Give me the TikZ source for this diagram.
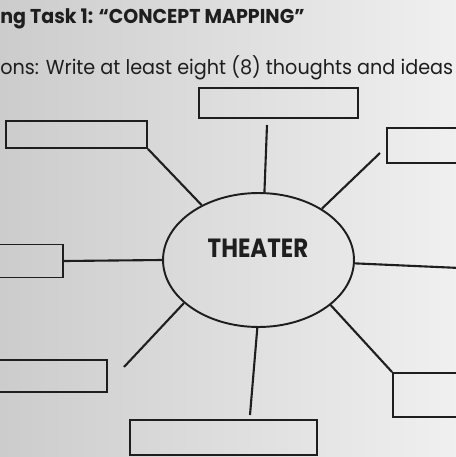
\documentclass[tikz,border=0pt]{standalone}
\usepackage{fontspec}
\setmainfont{Poppins}
\newfontfamily\headfont[FakeStretch=0.95]{Poppins}
\newfontfamily\wordfont[FakeStretch=0.87]{Poppins}
\usepackage{tikz}
\usetikzlibrary{shapes.geometric}
\definecolor{ink}{RGB}{30, 30, 30}

\begin{document}
\begin{tikzpicture}[
    x=0.02cm, y=-0.02cm,
    answer/.style={rectangle, draw=ink, line width=1.1pt, inner sep=0pt},
    topic/.style={ellipse, draw=ink, line width=1.1pt, minimum width=3.82cm, minimum height=2.68cm, inner sep=0pt},
    spoke/.style={draw=ink, line width=1.2pt}
]
    \path[use as bounding box, clip] (0,0) rectangle (456,457);
    \shade[left color=black!20, right color=black!6] (0,0) rectangle (456,457);

    % Heading
    \node[anchor=base west, inner sep=0pt, text=ink, font=\fontsize{11.4}{13}\headfont\bfseries] (title) at (0,23) {ng Task 1: “CONCEPT MAPPING”};
    \node[anchor=base west, inner sep=0pt, text=ink, font=\fontsize{11.5}{13}\headfont] (hint) at (0,74) {ons: Write at least eight (8) thoughts and ideas};

    % Centre
    \node[topic] (theater) at (258.5,260) {};
    \node[text=ink, font=\fontsize{15}{17}\wordfont\bfseries] (word) at (258,248) {THEATER};

    % Answer boxes
    \node[answer, minimum width=3.18cm, minimum height=0.6cm] (box_top) at (278.5,103) {};
    \node[answer, minimum width=2.82cm, minimum height=0.54cm] (box_tl) at (76.5,134.5) {};
    \node[answer, minimum width=2.86cm, minimum height=0.7cm] (box_tr) at (458.5,145.5) {};
    \node[answer, minimum width=2.86cm, minimum height=0.66cm] (box_ml) at (-8.5,261) {};
    \node[answer, minimum width=2.94cm, minimum height=0.64cm] (box_bl) at (33.5,376) {};
    \node[answer, minimum width=3.74cm, minimum height=0.7cm] (box_b) at (223.5,437.5) {};
    \node[answer, minimum width=2.94cm, minimum height=0.88cm] (box_br) at (466.5,395) {};

    % Loose line ends
    \coordinate (end_top) at (267,125);
    \coordinate (end_tr) at (380,153);
    \coordinate (end_mr) at (460,268);
    \coordinate (end_bl) at (124,367);
    \coordinate (end_b) at (250,415);

    % Spokes
    \draw[spoke] (theater.85) -- (end_top);
    \draw[spoke] (theater.136) -- (box_tl.south east);
    \draw[spoke] (theater.39) -- (end_tr);
    \draw[spoke] (theater.west) -- (box_ml.east);
    \draw[spoke] (theater.-2) -- (end_mr);
    \draw[spoke] (theater.210) -- (end_bl);
    \draw[spoke] (theater.269) -- (end_b);
    \draw[spoke] (theater.328) -- (box_br.north west);

\end{tikzpicture}
\end{document}
